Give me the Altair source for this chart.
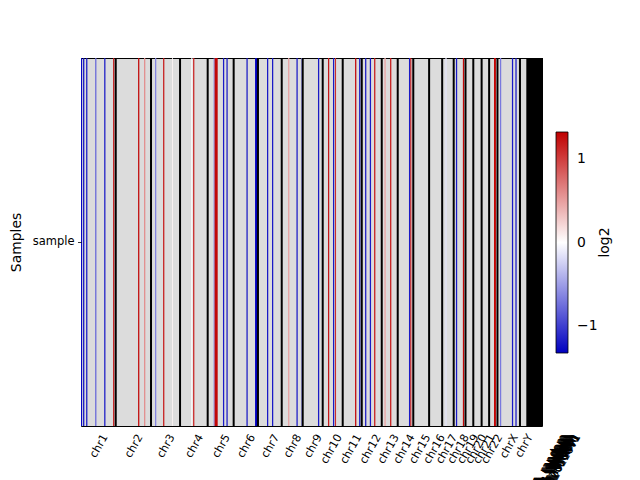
import altair as alt
import pandas as pd

# ---- data ----
chrom_names = ["chr1", "chr2", "chr3", "chr4", "chr5", "chr6", "chr7", "chr8",
               "chr9", "chr10", "chr11", "chr12", "chr13", "chr14", "chr15",
               "chr16", "chr17", "chr18", "chr19", "chr20", "chr21", "chr22",
               "chrX", "chrY"]
chrom_lengths = [250, 254, 209, 199, 187, 175, 171, 151, 144, 144, 137, 144,
                 115, 112, 114, 94, 83, 85, 56, 60, 54, 60, 162, 53]
contig_names = ["chr1_KI270706v1_random", "chr1_KI270707v1_random",
                "chr1_KI270708v1_random", "chr1_KI270709v1_random",
                "chr1_KI270710v1_random", "chr1_KI270711v1_random",
                "chr1_KI270712v1_random", "chr1_KI270713v1_random",
                "chr1_KI270714v1_random", "chr2_KI270715v1_random",
                "chr2_KI270716v1_random", "chr3_GL000221v1_random",
                "chr4_GL000008v2_random", "chr5_GL000208v1_random",
                "chr9_KI270717v1_random", "chr9_KI270718v1_random",
                "chr9_KI270719v1_random", "chr9_KI270720v1_random",
                "chr11_KI270721v1_random", "chr14_GL000009v2_random",
                "chr14_GL000225v1_random", "chrUn_KI270302v1",
                "chrUn_KI270304v1", "chrUn_GL000220v1"]
contig_lengths = [4.4] * 24

seg_chrom = ["chr1", "chr1", "chr1", "chr1", "chr1", "chr1",
             "chr2", "chr2",
             "chr3", "chr3", "chr3",
             "chr4", "chr4",
             "chr5", "chr5", "chr5", "chr5",
             "chr6", "chr6",
             "chr7", "chr7",
             "chr8", "chr8", "chr8",
             "chr9",
             "chr10", "chr10", "chr10",
             "chr11", "chr11",
             "chr12", "chr12", "chr12",
             "chr13", "chr13",
             "chr14", "chr14",
             "chr17",
             "chr18", "chr18",
             "chr22",
             "chrX", "chrX", "chrX"]
seg_start = [0, 15, 37, 102, 167, 231,
             161, 204,
             29, 87, 151,
             81, 94,
             43, 50, 110, 135,
             92, 154,
             65, 101,
             46, 106, 140,
             110,
             38, 74, 88,
             89, 118,
             24, 58, 89,
             19, 60,
             81, 90,
             23,
             16, 66,
             35,
             18, 104, 129]
seg_end = [8, 24, 46, 111, 176, 240,
           170, 213,
           38, 96, 157,
           89, 103,
           50, 72, 119, 144,
           101, 175,
           74, 110,
           55, 115, 149,
           119,
           47, 83, 96,
           98, 127,
           33, 67, 98,
           29, 69,
           89, 98,
           32,
           25, 75,
           49,
           27, 113, 138]
seg_log2 = [-1.3, -1.25, -1.2, -0.8, -1.2, 1.2,
            1.3, 0.6,
            -0.65, 1.2, 0.05,
            0.0, 1.15,
            -0.7, 1.3, -1.2, -1.2,
            -1.2, -1.33,
            -1.2, -1.2,
            0.5, -1.2, -0.6,
            -1.2,
            1.2, -1.2, 1.1,
            1.3, -1.2,
            -1.2, -1.2, 1.2,
            0.45, 1.2,
            -1.2, 1.2,
            -0.15,
            -1.2, 1.3,
            1.3,
            -0.7, -1.2, -1.2]

sample_name = "sample"

# ---- derived tables ----
all_names = chrom_names + contig_names
all_lengths = chrom_lengths + contig_lengths
offsets = {}
starts, ends = [], []
acc = 0.0
for n, L in zip(all_names, all_lengths):
    offsets[n] = acc
    starts.append(acc)
    acc += L
    ends.append(round(acc, 3))
total = acc
chrom_total = float(sum(chrom_lengths))
mids = [round((s + e) / 2, 3) for s, e in zip(starts, ends)]

seg_df = pd.DataFrame({
    "gstart": [offsets[c] + s for c, s in zip(seg_chrom, seg_start)],
    "gend": [offsets[c] + e for c, e in zip(seg_chrom, seg_end)],
    "log2": seg_log2,
    "sample": sample_name,
})
bound_df = pd.DataFrame({"pos": ends, "lo": 0.0, "hi": 1.0})

label_expr = " : ".join(
    f"datum.value < {e} ? '{n}'" for n, e in zip(all_names, ends)) + " : ''"

FONT = "DejaVu Sans"
xscale = alt.Scale(domain=[0, total], nice=False, zero=False)


def x_axis():
    return alt.Axis(
        title=None, values=mids, labelExpr=label_expr, ticks=False,
        domain=False, grid=False, labelAngle=-60, labelAlign="right",
        labelBaseline="middle", labelPadding=9,
        labelOffset={"condition": {"test": f"datum.value > {chrom_total}",
                                   "value": 36}, "value": 6.5},
        labelFontSize=11.1, labelFont=FONT, labelColor="black",
        labelOverlap=False, labelFlush=False, labelLimit=400)


segs = alt.Chart(seg_df).mark_rect(strokeWidth=0).encode(
    x=alt.X("gstart:Q", scale=xscale, axis=x_axis()),
    x2="gend:Q",
    y=alt.Y("sample:N", scale=alt.Scale(paddingInner=0, paddingOuter=0),
            axis=alt.Axis(title="Samples", domain=False, tickSize=3.5,
                          tickColor="black", tickWidth=0.8, labelPadding=3.5,
                          labelFontSize=11.5, labelFont=FONT,
                          labelColor="black", titleFont=FONT,
                          titleFontSize=13.9, titleFontWeight="normal",
                          titleColor="black", titleAngle=270, titleX=-65,
                          titleY=184, titleAlign="center",
                          titleBaseline="middle")),
    color=alt.Color("log2:Q",
                    scale=alt.Scale(domain=[-1.33, 0, 1.33],
                                    range=["#0000c0", "#ffffff", "#c00000"],
                                    interpolate="rgb"),
                    legend=alt.Legend(orient="none", legendX=475, legendY=74,
                                      direction="vertical", title=None,
                                      gradientLength=221, gradientThickness=12,
                                      gradientStrokeColor="black",
                                      gradientStrokeWidth=0.8,
                                      values=[-1, 0, 1], format="d",
                                      labelFontSize=13.9,
                                      labelFont=FONT, labelColor="black",
                                      labelOffset=9, padding=0)),
)

bounds = alt.Chart(bound_df).mark_rule(color="black", strokeWidth=2).encode(
    x=alt.X("pos:Q", scale=xscale, axis=x_axis()),
    y=alt.Y("lo:Q", scale=alt.Scale(domain=[0, 1], nice=False, zero=False),
            axis=alt.Axis(orient="right", title="log2", domain=False,
                          ticks=False, labels=False, grid=False,
                          titleFont=FONT, titleFontSize=13.9,
                          titleFontWeight="normal", titleColor="black",
                          titleAngle=270, titleX=62, titleY=184,
                          titleAlign="center", titleBaseline="middle")),
    y2="hi:Q",
)

chart = alt.layer(segs, bounds).resolve_scale(y="independent").properties(
    width=461, height=368,
    padding={"left": 73, "top": 50, "right": 90, "bottom": 54},
    autosize=alt.AutoSizeParams(type="none"),
).configure_view(fill="#dcdcdc", stroke="black", strokeWidth=1)

chart.save("out.html", embed_options={"renderer": "svg", "actions": False})
